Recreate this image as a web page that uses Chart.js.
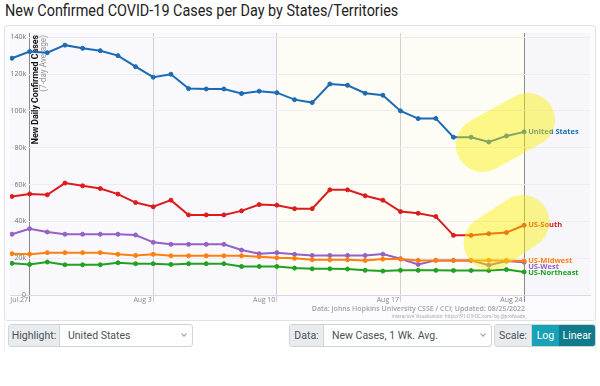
<!DOCTYPE html>
<html>
<head>
<meta charset="utf-8">
<script src="https://cdn.jsdelivr.net/npm/chart.js@4.4.1/dist/chart.umd.min.js"></script>
<style>
body{margin:0;background:#fff;font-family:Roboto,sans-serif;width:600px;height:386px;position:relative;overflow:hidden}
#title{position:absolute;left:5px;top:1px;font-size:16px;color:#222;white-space:nowrap;transform:scaleX(0.9);transform-origin:left top}
#box{position:absolute;left:4px;top:25px;width:592px;height:296px;box-sizing:border-box;border:1px solid #e2e2e2;border-radius:3px;background:#fcfcfe}
#cv{position:absolute;left:0;top:0}
#outer{position:absolute;left:4px;top:321px;width:592px;height:30px;box-sizing:border-box;border-left:1px solid #eee;border-right:1px solid #eee}
.grp{position:absolute;top:324px;height:23px;display:flex;box-sizing:border-box;border:1px solid #ced4da;border-radius:3px;font-size:10.5px;color:#495057;overflow:hidden;background:#fff}
.lab{background:#e9ecef;display:flex;align-items:center;justify-content:center;border-right:1px solid #ced4da;box-sizing:border-box}
.sel{flex:1;display:flex;align-items:center;padding-left:8px;position:relative}
.chev{position:absolute;right:6px;top:7px;width:3px;height:3px;border-right:1px solid #999;border-bottom:1px solid #999;transform:rotate(45deg)}
.btn{display:flex;align-items:center;justify-content:center;color:#fff;box-sizing:border-box}
</style>
</head>
<body>
<div id="title">New Confirmed COVID-19 Cases per Day by States/Territories</div>
<div id="box"><canvas id="cv" width="590" height="294"></canvas></div>
<div id="outer"></div>
<div class="grp" style="left:8px;width:185px"><div class="lab" style="width:51px">Highlight:</div><div class="sel">United States<span class="chev"></span></div></div>
<div class="grp" style="left:289px;width:203px"><div class="lab" style="width:34px">Data:</div><div class="sel">New Cases, 1 Wk. Avg.<span class="chev"></span></div></div>
<div class="grp" style="left:494px;width:102px"><div class="lab" style="width:37px">Scale:</div><div class="btn" style="width:27px;background:#17a2b8">Log</div><div class="btn" style="flex:1;background:#117a8b">Linear</div></div>
<script>
// days Jul 26 .. Aug 24, values in thousands (7-day avg)
const dates = ['Jul 26','Jul 27','Jul 28','Jul 29','Jul 30','Jul 31','Aug 1','Aug 2','Aug 3','Aug 4',
    'Aug 5','Aug 6','Aug 7','Aug 8','Aug 9','Aug 10','Aug 11','Aug 12','Aug 13','Aug 14',
    'Aug 15','Aug 16','Aug 17','Aug 18','Aug 19','Aug 20','Aug 21','Aug 22','Aug 23','Aug 24'];

const unitedStates = [128.6,132.2,131.6,135.7,134.0,132.7,130.0,124.0,118.3,119.9,
    112.1,111.9,111.9,109.4,110.7,109.9,106.1,104.5,114.6,113.9,
    109.6,108.5,100.0,95.8,95.9,85.7,85.7,83.1,86.4,88.6];
const usSouth = [53.5,54.9,54.4,60.8,59.3,57.8,54.8,50.2,47.9,51.5,
    43.5,43.5,43.5,45.7,49.1,48.8,46.9,46.9,57.1,57.1,
    53.9,51.5,45.3,44.4,42.6,32.4,32.4,33.3,33.9,37.9];
const usMidwest = [22.4,22.2,23.0,23.0,23.0,23.0,22.1,21.5,22.1,21.3,
    21.3,21.3,21.3,21.3,20.8,20.2,19.9,19.1,19.1,19.1,
    18.8,19.5,19.5,18.8,18.8,18.8,18.8,18.8,18.8,18.5];
const usWest = [33.0,36.0,34.2,33.0,33.0,33.0,33.0,32.6,28.6,27.5,
    27.5,27.5,27.5,24.4,22.4,23.0,22.1,21.5,21.5,21.5,
    21.5,22.2,19.7,16.6,18.8,18.8,18.8,16.2,18.4,17.8];
const usNortheast = [17.2,16.6,17.9,16.4,16.4,16.4,17.5,17.0,17.0,16.6,
    17.0,17.0,17.0,15.5,15.5,15.5,14.6,14.2,14.2,14.1,
    13.4,13.0,13.4,13.4,13.4,13.3,13.3,13.3,13.8,12.5];

const seriesNames = ['United States','US-South','US-Midwest','US-West','US-Northeast'];
const seriesColors = ['#1c6bb3','#dc1c1c','#ff7f0e','#9561c4','#22a022'];

const tickDays = [1,8,15,22,29];
const tickLabels = ['Jul 27','Aug 3','Aug 10','Aug 17','Aug 24'];
const yTicks = [0,20,40,60,80,100,120,140];

// highlight blobs (day index, thousands)
const highlightUS = [{x:26.66,y:81.5},{x:29.22,y:95.1}];
const highlightSouth = [{x:27.1,y:28.2},{x:28.9,y:39.7}];

const toXY = arr => arr.map((v,i) => ({x:i, y:v}));
const allSeries = [unitedStates, usSouth, usMidwest, usWest, usNortheast];

const overlay = {
    id: 'overlay',
    beforeDraw(chart) {
        const {ctx, chartArea: a, scales: {x}} = chart;
        const x10 = x.getPixelForValue(15), x24 = x.getPixelForValue(29);
        ctx.save();
        ctx.fillStyle = '#f8f8fd';
        ctx.fillRect(a.left, a.top, x10 - a.left, a.bottom - a.top);
        ctx.fillStyle = '#fdfdf6';
        ctx.fillRect(x10, a.top, x24 - x10, a.bottom - a.top);
        ctx.fillStyle = '#f6f6fb';
        ctx.fillRect(x24, a.top, a.right - x24, a.bottom - a.top);
        ctx.restore();
    },
    beforeDatasetsDraw(chart) {
        const {ctx, chartArea: a, scales: {x, y}} = chart;
        const axisX = x.getPixelForValue(1);
        ctx.save();
        // y tick labels
        ctx.font = '7px "Open Sans"';
        ctx.fillStyle = '#777';
        ctx.textAlign = 'right';
        ctx.textBaseline = 'middle';
        yTicks.forEach(v => ctx.fillText(v === 0 ? '0' : v + 'k', axisX - 3.5, y.getPixelForValue(v)));
        // x tick labels
        ctx.fillStyle = '#888';
        tickDays.forEach((d, i) => ctx.fillText(tickLabels[i], x.getPixelForValue(d) - 1.5, a.bottom + 4.5));
        // y axis title
        ctx.save();
        ctx.translate(axisX + 6, a.top + 2);
        ctx.rotate(-Math.PI / 2);
        ctx.font = 'bold 8.8px Roboto';
        ctx.fillStyle = '#111';
        ctx.fillText('New Daily Confirmed Cases', 0, 0);
        ctx.translate(0, 8);
        ctx.font = '8.2px Roboto';
        ctx.fillStyle = '#999';
        ctx.fillText('(7-day Average)', 0, 0);
        ctx.restore();
        // source
        const srcX = x.getPixelForValue(29) + 1;
        ctx.font = '600 7px "Open Sans"';
        ctx.fillStyle = '#a0a0a8';
        ctx.fillText('Data: Johns Hopkins University CSSE / CCI; Updated: 08/25/2022', srcX, a.bottom + 14);
        ctx.font = '4.6px "Open Sans"';
        ctx.fillText('Interactive Visualization: https://91-DIVOC.com/ by @profwade_', srcX + 2, a.bottom + 21.5);
        // series labels at line ends, nudged apart
        const last = unitedStates.length - 1;
        const items = allSeries.map((s, i) => ({name: seriesNames[i], color: seriesColors[i], py: y.getPixelForValue(s[last])}));
        items.sort((p, q) => p.py - q.py);
        for (let i = 1; i < items.length; i++) {
            if (items[i].py < items[i-1].py + 6) items[i].py = items[i-1].py + 6;
        }
        ctx.font = 'bold 7.5px "Open Sans"';
        ctx.textAlign = 'left';
        items.forEach(it => {
            ctx.fillStyle = it.color;
            ctx.fillText(it.name, x.getPixelForValue(last) + 4, it.py);
        });
        ctx.restore();
    }
};

const datasets = allSeries.map((s, i) => ({
    label: seriesNames[i],
    data: toXY(s),
    borderColor: seriesColors[i],
    backgroundColor: seriesColors[i],
    borderWidth: 2,
    pointRadius: 2,
    pointBorderWidth: 1,
    tension: 0,
    order: 0
}));
[highlightUS, highlightSouth].forEach(h => datasets.push({
    data: h,
    borderColor: 'rgba(250,240,0,0.45)',
    borderWidth: 54,
    borderCapStyle: 'round',
    pointRadius: 0,
    clip: false,
    order: -1
}));

new Chart(document.getElementById('cv'), {
    type: 'line',
    data: { datasets },
    plugins: [overlay],
    options: {
        responsive: false,
        animation: false,
        events: [],
        layout: { padding: { top: 7, right: 0, bottom: 18, left: 0 } },
        plugins: { legend: { display: false }, tooltip: { enabled: false } },
        scales: {
            x: {
                type: 'linear',
                min: -0.111,
                max: 32.73,
                afterBuildTicks: s => { s.ticks = tickDays.map(v => ({value: v})); },
                ticks: { display: false },
                grid: {
                    drawTicks: true,
                    tickLength: 7,
                    color: c => (c.index === 0 || c.index === tickDays.length - 1) ? '#8a8a8a' : '#cfcfd4'
                },
                border: { display: true, color: '#ddd5ea' }
            },
            y: {
                min: 0,
                max: 142.3,
                afterBuildTicks: s => { s.ticks = yTicks.map(v => ({value: v})); },
                ticks: { display: false },
                grid: {
                    drawTicks: false,
                    color: c => c.tick.value === 0 ? '#ddd5ea' : '#ececf2'
                },
                border: { display: false }
            }
        }
    }
});
</script>
</body>
</html>
